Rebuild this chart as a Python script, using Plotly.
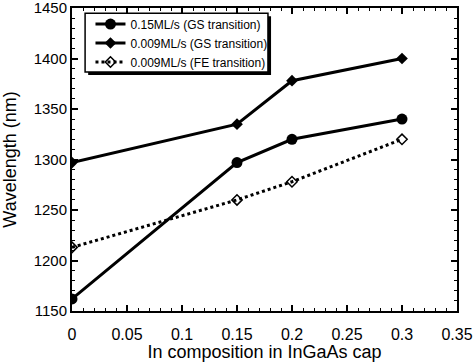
import plotly.graph_objects as go

x_vals = [0, 0.15, 0.2, 0.3]
gs_fast = [1162, 1297, 1320, 1340]
gs_slow = [1297, 1335, 1378, 1400]
fe_slow = [1213, 1260, 1278, 1320]
names = ["0.15ML/s (GS transition)", "0.009ML/s (GS transition)", "0.009ML/s (FE transition)"]
x_ticks = [0, 0.05, 0.1, 0.15, 0.2, 0.25, 0.3, 0.35]
x_tick_text = ["0", "0.05", "0.1", "0.15", "0.2", "0.25", "0.3", "0.35"]
y_ticks = [1150, 1200, 1250, 1300, 1350, 1400, 1450]

FONT = "Liberation Sans, Arial"

fig = go.Figure()
fig.add_trace(go.Scatter(x=x_vals, y=gs_fast, name=names[0], mode="lines+markers",
                         line=dict(color="black", width=3), marker=dict(symbol="circle", size=11, color="black")))
fig.add_trace(go.Scatter(x=x_vals, y=gs_slow, name=names[1], mode="lines+markers",
                         line=dict(color="black", width=3), marker=dict(symbol="diamond", size=9, color="black")))
fig.add_trace(go.Scatter(x=x_vals, y=fe_slow, name=names[2], mode="lines+markers",
                         line=dict(color="black", width=3, dash="dot"),
                         marker=dict(symbol="diamond-open", size=8, color="black", line=dict(width=1.5))))

axis_common = dict(showline=True, linecolor="black", linewidth=2, mirror="ticks", ticks="inside",
                   ticklen=6, tickwidth=1.5, tickcolor="black", showgrid=False, zeroline=False,
                   automargin=True, ticklabeloverflow="allow")
fig.update_xaxes(range=[0, 0.35], tickvals=x_ticks, ticktext=x_tick_text,
                 tickfont=dict(family=FONT, size=16, color="black"), ticklabelstandoff=8,
                 minor=dict(dtick=0.01, ticks="inside", ticklen=3, tickcolor="black", tickwidth=1),
                 title=dict(text="In composition in InGaAs cap", font=dict(family=FONT, size=18, color="black"), standoff=4),
                 **axis_common)
fig.update_yaxes(range=[1150, 1450], tickvals=y_ticks,
                 tickfont=dict(family=FONT, size=15, color="black"),
                 minor=dict(dtick=10, ticks="inside", ticklen=3, tickcolor="black", tickwidth=1),
                 title=dict(text="Wavelength (nm)", font=dict(family=FONT, size=18, color="black"), standoff=12),
                 **axis_common)

# legend box shadow and frame
fig.add_shape(type="rect", xref="paper", yref="paper", x0=0.042, x1=0.517, y0=0.779, y1=0.973,
              fillcolor="black", line=dict(width=0), layer="above")
fig.add_shape(type="rect", xref="paper", yref="paper", x0=0.034, x1=0.509, y0=0.789, y1=0.983,
              fillcolor="white", line=dict(width=1.5, color="black"), layer="above")

fig.update_layout(
    width=474, height=362,
    margin=dict(l=72, r=17, t=8, b=51, autoexpand=False),
    paper_bgcolor="white", plot_bgcolor="white",
    font=dict(family=FONT, color="black"),
    legend=dict(x=0.048, y=0.995, xanchor="left", yanchor="top", bgcolor="rgba(0,0,0,0)",
                borderwidth=0, font=dict(size=12, family=FONT, color="black"),
                tracegroupgap=0, itemwidth=30),
    showlegend=True,
)
fig.write_html("out.html", config={"displayModeBar": False},
               post_script="document.body.style.margin='0';document.body.style.padding='0';")
